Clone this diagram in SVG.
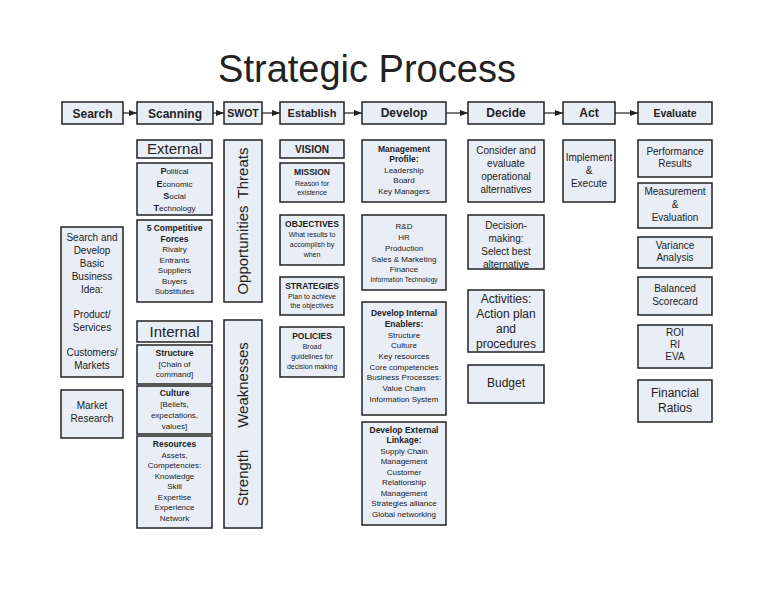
<svg xmlns="http://www.w3.org/2000/svg" width="768" height="594" viewBox="0 0 768 594">
<style>
rect{fill:#e9edf5;stroke:#222;stroke-width:1.5}
text{font-family:"Liberation Sans",Arial,sans-serif;fill:#222;text-anchor:middle}
.h{font-weight:bold;font-size:12px}
.s{font-size:10px}
.xs{font-size:8px}
.xsb{font-size:8.5px;font-weight:bold}
.m{font-size:11px}
.l{font-size:16px}
.c line{stroke:#222;stroke-width:1.2;marker-end:url(#a)}
</style>
<defs><marker id="a" markerWidth="8" markerHeight="6" refX="8" refY="3" orient="auto" markerUnits="userSpaceOnUse"><path d="M0,0L8,3L0,6z" fill="#222"/></marker></defs>
<rect width="768" height="594" style="fill:#fff;stroke:none"/>
<text x="367" y="82" style="font-size:38px">Strategic Process</text>
<g class="c">
<line x1="123" y1="113" x2="137" y2="113"/><line x1="213" y1="113" x2="224" y2="113"/><line x1="262" y1="113" x2="280" y2="113"/><line x1="344" y1="113" x2="362" y2="113"/><line x1="446" y1="113" x2="468" y2="113"/><line x1="544" y1="113" x2="563" y2="113"/><line x1="615" y1="113" x2="638" y2="113"/>
</g>
<g id="search"><rect x="62" y="102" width="61" height="22"/><text class="h" x="92.5" y="118">Search</text></g>
<g id="scanning"><rect x="137" y="102" width="76" height="22"/><text class="h" x="175" y="118">Scanning</text></g>
<g id="swot"><rect x="224" y="102" width="38" height="22"/><text class="h" x="243" y="117" style="font-size:10.5px">SWOT</text></g>
<g id="establish"><rect x="280" y="102" width="64" height="22"/><text class="h" x="312" y="117" style="font-size:11px">Establish</text></g>
<g id="develop"><rect x="362" y="102" width="84" height="22"/><text class="h" x="404" y="117">Develop</text></g>
<g id="decide"><rect x="468" y="102" width="76" height="22"/><text class="h" x="506" y="117">Decide</text></g>
<g id="act"><rect x="563" y="102" width="52" height="22"/><text class="h" x="589" y="117">Act</text></g>
<g id="evaluate"><rect x="638" y="102" width="74" height="22"/><text class="h" x="675" y="117" style="font-size:10.5px">Evaluate</text></g>

<g id="idea"><rect x="61" y="227" width="62" height="150"/>
<text class="s" x="92" y="241">Search and</text><text class="s" x="92" y="254">Develop</text><text class="s" x="92" y="267">Basic</text><text class="s" x="92" y="280">Business</text><text class="s" x="92" y="293">Idea:</text><text class="s" x="92" y="318">Product/</text><text class="s" x="92" y="331">Services</text><text class="s" x="92" y="356">Customers/</text><text class="s" x="92" y="369">Markets</text></g>
<g id="market"><rect x="61" y="390" width="62" height="48"/><text class="s" x="92" y="409">Market</text><text class="s" x="92" y="422">Research</text></g>

<g id="external"><rect x="137" y="140" width="75" height="18"/><text x="174.5" y="154" style="font-size:15px">External</text></g>
<g id="pest"><rect x="137" y="163" width="75" height="52"/>
<text class="xs" x="174.5" y="174"><tspan font-weight="bold" font-size="9">P</tspan>olitical</text><text class="xs" x="174.5" y="187"><tspan font-weight="bold" font-size="9">E</tspan>conomic</text><text class="xs" x="174.5" y="199"><tspan font-weight="bold" font-size="9">S</tspan>ocial</text><text class="xs" x="174.5" y="211"><tspan font-weight="bold" font-size="9">T</tspan>echnology</text></g>
<g id="forces"><rect x="137" y="220" width="75" height="82"/>
<text class="xsb" x="174.5" y="231">5 Competitive</text><text class="xsb" x="174.5" y="242">Forces</text><text class="xs" x="174.5" y="252">Rivalry</text><text class="xs" x="174.5" y="263">Entrants</text><text class="xs" x="174.5" y="273">Suppliers</text><text class="xs" x="174.5" y="284">Buyers</text><text class="xs" x="174.5" y="294">Substitutes</text></g>
<g id="internal"><rect x="137" y="321" width="75" height="21"/><text x="174.5" y="337" style="font-size:15px">Internal</text></g>
<g id="structure"><rect x="137" y="345" width="75" height="39"/><text class="xsb" x="174.5" y="356">Structure</text><text class="xs" x="174.5" y="367">[Chain of</text><text class="xs" x="174.5" y="377">command]</text></g>
<g id="culture"><rect x="137" y="386" width="75" height="48"/><text class="xsb" x="174.5" y="396">Culture</text><text class="xs" x="174.5" y="407">[Beliefs,</text><text class="xs" x="174.5" y="418">expectations,</text><text class="xs" x="174.5" y="429">values]</text></g>
<g id="resources"><rect x="137" y="436" width="75" height="92"/><text class="xsb" x="174.5" y="447">Resources</text><text class="xs" x="174.5" y="458">Assets,</text><text class="xs" x="174.5" y="468">Competencies:</text><text class="xs" x="174.5" y="479">Knowledge</text><text class="xs" x="174.5" y="489">Skill</text><text class="xs" x="174.5" y="500">Expertise</text><text class="xs" x="174.5" y="510">Experience</text><text class="xs" x="174.5" y="521">Network</text></g>

<g id="ot"><rect x="224" y="140" width="38" height="162"/>
<text x="0" y="0" transform="translate(248,250) rotate(-90)" style="font-size:15px">Opportunities</text><text transform="translate(248,173) rotate(-90)" style="font-size:15px">Threats</text></g>
<g id="sw"><rect x="224" y="320" width="38" height="208"/>
<text transform="translate(248,385) rotate(-90)" style="font-size:15px">Weaknesses</text><text transform="translate(248,478) rotate(-90)" style="font-size:15px">Strength</text></g>

<g id="vision"><rect x="280" y="140" width="64" height="18"/><text class="h" x="312" y="153" style="font-size:10px">VISION</text></g>
<g id="mission"><rect x="280" y="163" width="64" height="39"/><text class="xsb" x="312" y="175">MISSION</text><text class="xs" x="312" y="186" style="font-size:7px">Reason for</text><text class="xs" x="312" y="195" style="font-size:7px">existence</text></g>
<g id="objectives"><rect x="280" y="215" width="64" height="50"/><text class="xsb" x="312" y="227">OBJECTIVES</text><text x="312" y="237" style="font-size:7px">What results to</text><text x="312" y="247" style="font-size:7px">accomplish by</text><text x="312" y="257" style="font-size:7px">when</text></g>
<g id="strategies"><rect x="280" y="277" width="64" height="38"/><text class="xsb" x="312" y="289">STRATEGIES</text><text x="312" y="299" style="font-size:7px">Plan to achieve</text><text x="312" y="308" style="font-size:7px">the objectives</text></g>
<g id="policies"><rect x="280" y="327" width="64" height="50"/><text class="xsb" x="312" y="339">POLICIES</text><text x="312" y="349" style="font-size:7px">Broad</text><text x="312" y="359" style="font-size:7px">guidelines for</text><text x="312" y="369" style="font-size:7px">decision making</text></g>

<g id="mgmt"><rect x="362" y="140" width="84" height="62"/><text class="xsb" x="404" y="152">Management</text><text class="xsb" x="404" y="162">Profile:</text><text class="xs" x="404" y="173">Leadership</text><text class="xs" x="404" y="183">Board</text><text class="xs" x="404" y="194">Key Managers</text></g>
<g id="functions"><rect x="362" y="215" width="84" height="75"/><text class="xs" x="404" y="229">R&amp;D</text><text class="xs" x="404" y="240">HR</text><text class="xs" x="404" y="251">Production</text><text class="xs" x="404" y="262">Sales &amp; Marketing</text><text class="xs" x="404" y="272">Finance</text><text x="404" y="282" style="font-size:6.5px">Information Technology</text></g>
<g id="intenablers"><rect x="362" y="302" width="84" height="113"/><text class="xsb" x="404" y="316">Develop Internal</text><text class="xsb" x="404" y="327">Enablers:</text><text class="xs" x="404" y="338">Structure</text><text class="xs" x="404" y="348">Culture</text><text class="xs" x="404" y="359">Key resources</text><text class="xs" x="404" y="370">Core competencies</text><text class="xs" x="404" y="380">Business Processes:</text><text class="xs" x="404" y="391">Value Chain</text><text class="xs" x="404" y="402">Information System</text></g>
<g id="extlinkage"><rect x="362" y="422" width="84" height="103"/><text class="xsb" x="404" y="433">Develop External</text><text class="xsb" x="404" y="443">Linkage:</text><text class="xs" x="404" y="454">Supply Chain</text><text class="xs" x="404" y="464">Management</text><text class="xs" x="404" y="475">Customer</text><text class="xs" x="404" y="485">Relationship</text><text class="xs" x="404" y="496">Management</text><text class="xs" x="404" y="506">Strategies alliance</text><text class="xs" x="404" y="517">Global networking</text></g>

<g id="consider"><rect x="468" y="140" width="76" height="62"/><text class="s" x="506" y="154">Consider and</text><text class="s" x="506" y="167">evaluate</text><text class="s" x="506" y="180">operational</text><text class="s" x="506" y="193">alternatives</text></g>
<g id="decision"><rect x="468" y="215" width="76" height="54"/><text class="s" x="506" y="229">Decision-</text><text class="s" x="506" y="242">making:</text><text class="s" x="506" y="255">Select best</text><text class="s" x="506" y="268" style="font-size:10px">alternative</text></g>
<g id="activities"><rect x="468" y="290" width="76" height="62"/><text x="506" y="303" style="font-size:12px">Activities:</text><text x="506" y="318" style="font-size:12px">Action plan</text><text x="506" y="333" style="font-size:12px">and</text><text x="506" y="348" style="font-size:12px">procedures</text></g>
<g id="budget"><rect x="468" y="365" width="76" height="38"/><text x="506" y="387" style="font-size:12px">Budget</text></g>

<g id="implement"><rect x="563" y="140" width="52" height="62"/><text class="s" x="589" y="161">Implement</text><text class="s" x="589" y="174">&amp;</text><text class="s" x="589" y="187">Execute</text></g>

<g id="perf"><rect x="638" y="140" width="74" height="37"/><text class="s" x="675" y="155">Performance</text><text class="s" x="675" y="167">Results</text></g>
<g id="meas"><rect x="638" y="183" width="74" height="45"/><text class="s" x="675" y="195">Measurement</text><text class="s" x="675" y="208">&amp;</text><text class="s" x="675" y="221">Evaluation</text></g>
<g id="variance"><rect x="638" y="237" width="74" height="31"/><text class="s" x="675" y="249">Variance</text><text class="s" x="675" y="261">Analysis</text></g>
<g id="balanced"><rect x="638" y="277" width="74" height="38"/><text class="s" x="675" y="292">Balanced</text><text class="s" x="675" y="305">Scorecard</text></g>
<g id="roi"><rect x="638" y="325" width="74" height="43"/><text class="s" x="675" y="336">ROI</text><text class="s" x="675" y="348">RI</text><text class="s" x="675" y="360">EVA</text></g>
<g id="ratios"><rect x="638" y="380" width="74" height="42"/><text x="675" y="397" style="font-size:12px">Financial</text><text x="675" y="412" style="font-size:12px">Ratios</text></g>
</svg>
